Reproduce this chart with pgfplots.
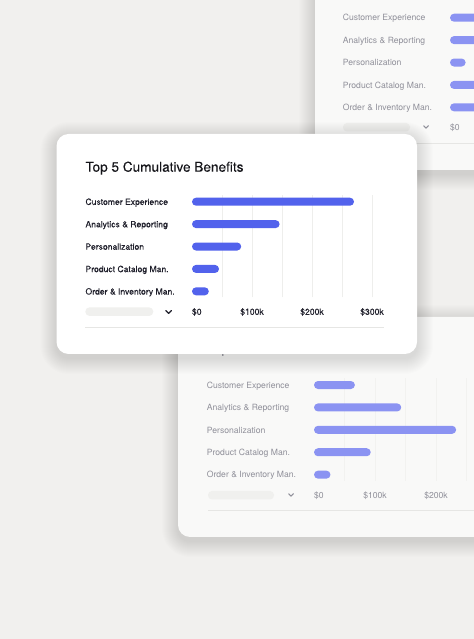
\documentclass[border=0pt]{standalone}
\usepackage{pgfplots}
\pgfplotsset{compat=1.18}
\usepackage{pgfplotstable}
\usepackage{fontspec}
\setmainfont{TeX Gyre Heros}
\newfontfamily\medfont{TeX Gyre Heros}[FakeBold=0.2]
\newfontfamily\titlefont{TeX Gyre Heros}[FakeBold=0.1]

\definecolor{bg}{HTML}{F1F0EE}
\definecolor{cardbg}{HTML}{F9F9F8}
\definecolor{barmain}{HTML}{5262EC}
\definecolor{barfade}{HTML}{8B93F2}
\definecolor{txtdark}{HTML}{1E1E2A}
\definecolor{titlec}{HTML}{141419}
\definecolor{txtfade}{HTML}{8F8F99}
\definecolor{gridc}{HTML}{EEEEEC}
\definecolor{gridfade}{HTML}{F2F2F0}
\definecolor{placeholder}{HTML}{F0F0EE}
\definecolor{rulec}{HTML}{E6E6E4}

% rows: 0 = Order & Inventory Man. ... 4 = Customer Experience
\pgfplotstableread{
row value
0 28
1 45
2 82
3 146
4 270
}\mainbenefits
\pgfplotstableread{
row value
0 27
1 93
2 233
3 143
4 67
}\lowerbenefits
\pgfplotstableread{
row value
0 150
1 120
2 26
3 110
4 130
}\upperbenefits

\pgfplotsset{
  benefits/.style={
    scale only axis,
    height=102.4bp,
    ymin=-0.27, ymax=4.3,
    xmin=0,
    xbar, bar width=8bp,
    axis line style={draw=none},
    major tick length=0pt, minor tick length=0pt,
    ytick={0,1,2,3,4},
    yticklabels={Order \& Inventory Man., Product Catalog Man., Personalization, Analytics \& Reporting, Customer Experience},
    yticklabel style={anchor=base west, inner sep=0pt, yshift=-3.2bp},
    xticklabel style={anchor=base, inner sep=0pt, yshift=-17.4bp},
    extra x tick labels={},
    extra x tick style={grid=major},
  },
}

\newcommand\cardshadow[4]{%
  \foreach \i [evaluate=\i as \r using 12+\i] in {1,...,16}{
    \fill[black, opacity=0.006, rounded corners=\r bp] ({#1-\i}, {#2-\i-4}) rectangle ({#3+\i}, {#4+\i-4});
  }%
}

\begin{document}
\begin{tikzpicture}[x=1bp, y=1bp]
\useasboundingbox (0,0) rectangle (474,639);
\clip (0,0) rectangle (474,639);
\fill[bg] (0,0) rectangle (474,639);

% ---------- upper right background card ----------
\cardshadow{315}{469}{500}{670}
\fill[cardbg, rounded corners=12bp] (315,469) rectangle (500,670);
\fill[placeholder, rounded corners=4bp] (343,507.5) rectangle (410,516);
\draw[txtfade, line width=1bp, line cap=round, line join=round] (423.6,513.2) -- (426,510.8) -- (428.4,513.2);
\draw[rulec, line width=0.8bp] (343,496) -- (480,496);
\begin{axis}[benefits, at={(450bp,525.6bp)}, anchor=south west, width=60bp, xmax=100,
  xtick={0}, xticklabels={\makebox[0pt][l]{\$0}},
  extra x ticks={50},
  yticklabel style={xshift=-107.3bp, text=txtfade, font=\fontsize{8.6bp}{10bp}\selectfont},
  xticklabel style={text=txtfade, font=\fontsize{8.6bp}{10bp}\selectfont},
  major grid style={gridfade, line width=0.6bp}]
\addplot[fill=barfade, draw=none, rounded corners=4bp] table[x=value, y=row] {\upperbenefits};
\end{axis}

% ---------- lower background card ----------
\cardshadow{178}{102}{500}{322}
\fill[cardbg, rounded corners=12bp] (178,102) rectangle (500,322);
\node[anchor=base west, inner sep=0pt, font=\fontsize{13.6bp}{16bp}\selectfont, text=txtfade] at (206.7,285) {Top 5 Cumulative Benefits};
\fill[placeholder, rounded corners=4bp] (208,139.5) rectangle (274,148);
\draw[txtfade, line width=1bp, line cap=round, line join=round] (288.6,145.2) -- (291,142.8) -- (293.4,145.2);
\draw[rulec, line width=0.8bp] (208,129) -- (490,129);
\begin{axis}[benefits, at={(314bp,158.3bp)}, anchor=south west, width=183bp, xmax=300,
  xtick={0,100,200}, xticklabels={\makebox[0pt][l]{\$0},\$100k,\$200k},
  extra x ticks={50,100,150,200,250},
  yticklabel style={xshift=-107.3bp, text=txtfade, font=\fontsize{8.6bp}{10bp}\selectfont},
  xticklabel style={text=txtfade, font=\fontsize{8.6bp}{10bp}\selectfont},
  major grid style={gridfade, line width=0.6bp}]
\addplot[fill=barfade, draw=none, rounded corners=4bp] table[x=value, y=row] {\lowerbenefits};
\end{axis}

% ---------- main card ----------
\cardshadow{56.5}{285}{417}{505}
\fill[white, rounded corners=12bp] (56.5,285) rectangle (417,505);
\node[anchor=base west, inner sep=0pt, font=\titlefont\fontsize{13.6bp}{16bp}\selectfont, text=titlec] at (85.3,467.3) {Top 5 Cumulative Benefits};
\fill[placeholder, rounded corners=4.3bp] (85.3,323) rectangle (153.3,331.7);
\draw[txtdark, line width=1.2bp, line cap=round, line join=round] (165.9,328.4) -- (168.7,325.6) -- (171.5,328.4);
\draw[rulec, line width=0.8bp] (85,311.7) -- (384,311.7);
\begin{axis}[benefits, at={(192bp,341.6bp)}, anchor=south west, width=180bp, xmax=300,
  xtick={0,100,200,300}, xticklabels={\makebox[0pt][l]{\$0},\$100k,\$200k,\$300k},
  extra x ticks={50,100,150,200,250,300},
  yticklabel style={xshift=-106.7bp, text=txtdark, font=\medfont\fontsize{8.6bp}{10bp}\selectfont},
  xticklabel style={text=txtdark, font=\medfont\fontsize{8.6bp}{10bp}\selectfont},
  major grid style={gridc, line width=0.7bp}]
\addplot[fill=barmain, draw=none, rounded corners=4bp] table[x=value, y=row] {\mainbenefits};
\end{axis}
\end{tikzpicture}
\end{document}
